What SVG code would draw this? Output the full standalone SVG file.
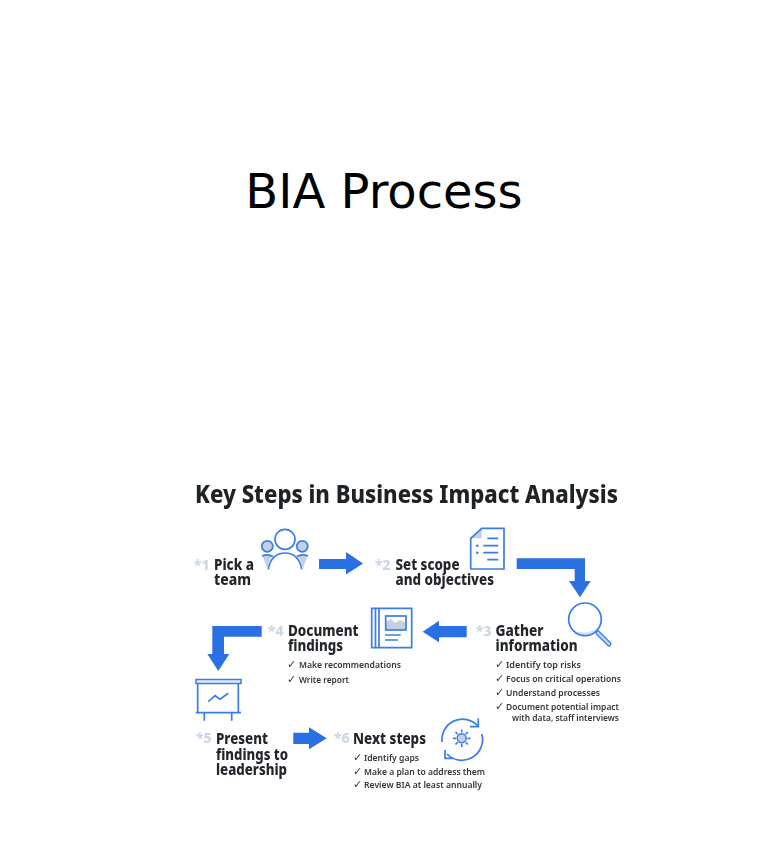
<svg xmlns="http://www.w3.org/2000/svg" width="768" height="866" viewBox="0 0 768 866">
<style>
.t{font-family:"DejaVu Sans",sans-serif;font-size:48px;fill:#000}
.h{font-family:"Noto Sans","Open Sans",sans-serif;font-weight:800;font-size:24px;fill:#1f2226}
.b{font-family:"Noto Sans","Open Sans",sans-serif;font-weight:800;font-size:15px;fill:#23262b}
.s{font-family:"Noto Sans","Open Sans",sans-serif;font-weight:600;font-size:9.5px;fill:#33363b}
.c{font-family:"DejaVu Sans",sans-serif;font-size:11px;fill:#33363b}
.n{font-family:"Noto Sans","Open Sans",sans-serif;font-weight:800;font-size:14px;fill:#cbd6e6}
.i{fill:none;stroke:#3b7de8;stroke-width:1.7}
.a{fill:#2b6fe3}
.g{fill:#c3d0e2}
</style>
<defs><filter id="soft" x="-5%" y="-5%" width="110%" height="110%"><feGaussianBlur stdDeviation="0.45"/></filter></defs>
<rect width="768" height="866" fill="#fff"/>
<text class="t" x="384" y="208" text-anchor="middle">BIA Process</text>
<g filter="url(#soft)">
<text class="h" x="195" y="503" textLength="423" lengthAdjust="spacingAndGlyphs">Key Steps in Business Impact Analysis</text>
<g id="connectors">
<polygon class="a" points="319,559 346,559 346,552 363,563.5 346,574.5 346,569 319,569"/>
<polygon class="a" points="516.7,558.3 585,558.3 585,581 590.7,581 580,597.3 569,581 574.7,581 574.7,569 516.7,569"/>
<polygon class="a" points="466.7,626 439,626 439,620.7 422.7,631.7 439,642.3 439,637.3 466.7,637.3"/>
<polygon class="a" points="212.3,626 261.7,626 261.7,636.7 224,636.7 224,654 229.3,654 218.3,671 207.3,654 212.3,654"/>
<polygon class="a" points="293.3,732.7 309,732.7 309,727.3 326.7,738.3 309,749.3 309,744 293.3,744"/>
</g>
<g id="node1">
<text class="n" x="194" y="570">*1</text>
<text class="b" x="214" y="570" textLength="40" lengthAdjust="spacingAndGlyphs">Pick a</text>
<text class="b" x="214" y="585" textLength="37" lengthAdjust="spacingAndGlyphs">team</text>
<path class="g" d="M262.3,556 Q268,554 272,556.7 Q268,561 267,569 Q265,561 262.3,556Z"/>
<path class="g" d="M307.7,556 Q302,554 298,556.7 Q302,561 303,569 Q305,561 307.7,556Z"/>
<circle class="g" cx="267.3" cy="546.3" r="5.5" stroke="#3b7de8" stroke-width="1.7"/>
<circle class="g" cx="302.3" cy="546.3" r="5.5" stroke="#3b7de8" stroke-width="1.7"/>
<circle class="i" cx="285" cy="539.3" r="10"/>
<path class="i" d="M268.3,569.3 C270,558 277,553 285,553 C293,553 300,558 301.7,569.3"/>
<path class="i" d="M262,556 Q268,553.5 273,556.5 M308,556 Q302,553.5 297,556.5"/>
</g>
<g id="node2">
<text class="n" x="375" y="570">*2</text>
<text class="b" x="395.5" y="570" textLength="64" lengthAdjust="spacingAndGlyphs">Set scope</text>
<text class="b" x="395.5" y="585" textLength="98.5" lengthAdjust="spacingAndGlyphs">and objectives</text>
<path class="g" d="M470.7,538.3 L481.7,528.3 V538.3Z"/>
<path class="i" d="M481.7,528.3 H504 V569 H470.7 V538.3Z"/>
<path class="i" d="M487.3,538.3 H498.3 M483.3,545.7 H498.3 M483.3,552.7 H498.3 M487.3,559.7 H498.3"/>
<circle cx="477.3" cy="545.7" r="1.3" fill="#3b7de8"/>
<circle cx="477.3" cy="552.7" r="1.3" fill="#3b7de8"/>
</g>
<g id="node3">
<text class="n" x="476" y="636">*3</text>
<text class="b" x="495.5" y="636" textLength="48" lengthAdjust="spacingAndGlyphs">Gather</text>
<text class="b" x="495.5" y="651" textLength="82" lengthAdjust="spacingAndGlyphs">information</text>
<path d="M573,630 A16,16 0 0 0 598,627 A22,22 0 0 1 573,630Z" fill="#d5deeb"/>
<circle class="i" cx="585" cy="619.3" r="16.3"/>
<path d="M598,633 L609,644" stroke="#3b7de8" stroke-width="5" stroke-linecap="round" fill="none"/>
<path d="M598,633 L609,644" stroke="#c3d6f0" stroke-width="2.4" stroke-linecap="round" fill="none"/>
<text class="c" x="495" y="668">✓</text><text class="s" x="506" y="668" textLength="75" lengthAdjust="spacingAndGlyphs">Identify top risks</text>
<text class="c" x="495" y="682">✓</text><text class="s" x="506" y="682" textLength="115" lengthAdjust="spacingAndGlyphs">Focus on critical operations</text>
<text class="c" x="495" y="696">✓</text><text class="s" x="506" y="696" textLength="94" lengthAdjust="spacingAndGlyphs">Understand processes</text>
<text class="c" x="495" y="710">✓</text><text class="s" x="506" y="710" textLength="113" lengthAdjust="spacingAndGlyphs">Document potential impact</text>
<text class="s" x="512" y="721" textLength="107" lengthAdjust="spacingAndGlyphs">with data, staff interviews</text>
</g>
<g id="node4">
<text class="n" x="268" y="636">*4</text>
<text class="b" x="288" y="636" textLength="70.5" lengthAdjust="spacingAndGlyphs">Document</text>
<text class="b" x="288" y="651" textLength="55" lengthAdjust="spacingAndGlyphs">findings</text>
<path class="i" d="M371.7,608.3 H411.7 V647.7 H371.7Z M375.5,608.3 V647.7 M379,608.3 V647.7"/>
<path class="g" d="M386,630 V622 L391,619 L395,623 L400,620 L406,623 V630Z"/>
<rect class="i" x="385.7" y="616" width="20.3" height="14"/>
<path class="i" d="M385,635 H400.7 M385,640 H398"/>
<text class="c" x="287" y="668">✓</text><text class="s" x="299" y="668" textLength="102" lengthAdjust="spacingAndGlyphs">Make recommendations</text>
<text class="c" x="287" y="683">✓</text><text class="s" x="299" y="683" textLength="50" lengthAdjust="spacingAndGlyphs">Write report</text>
</g>
<g id="node5">
<text class="n" x="196" y="743">*5</text>
<text class="b" x="216" y="744" textLength="52" lengthAdjust="spacingAndGlyphs">Present</text>
<text class="b" x="216" y="759.5" textLength="72" lengthAdjust="spacingAndGlyphs">findings to</text>
<text class="b" x="216" y="775" textLength="71" lengthAdjust="spacingAndGlyphs">leadership</text>
<rect x="196" y="679.5" width="45" height="4" fill="#e3ecf8" stroke="#3b7de8" stroke-width="1.5"/>
<path class="i" d="M197.7,683.5 V712.7 H238.3 V683.5 M195.7,712.7 H241 M204.3,712.7 V720.7 M231.7,712.7 V720.7"/>
<path class="i" d="M208.3,701.7 L215,695.7 L220,699.3 L228.3,693.3"/>
</g>
<g id="node6">
<text class="n" x="334" y="743">*6</text>
<text class="b" x="353" y="744" textLength="73" lengthAdjust="spacingAndGlyphs">Next steps</text>
<path class="i" d="M442,742 A20.7,20.7 0 0 1 478,726 M481.8,734 A20.7,20.7 0 0 1 447,754"/>
<path class="i" d="M478.3,718.3 V726.7 H470 M445,750 V758.3 H453.3"/>
<circle class="g" cx="461.7" cy="738.3" r="4.5" stroke="#3b7de8" stroke-width="1.5"/>
<path class="i" d="M461.7,729.5 V732.5 M461.7,744 V747 M453,738.3 H456 M467.5,738.3 H470.5 M455.5,732 L457.6,734.2 M465.8,742.4 L467.9,744.5 M467.9,732 L465.8,734.2 M457.6,742.4 L455.5,744.5"/>
<text class="c" x="353" y="761">✓</text><text class="s" x="364" y="761" textLength="55" lengthAdjust="spacingAndGlyphs">Identify gaps</text>
<text class="c" x="353" y="775">✓</text><text class="s" x="364" y="775" textLength="121" lengthAdjust="spacingAndGlyphs">Make a plan to address them</text>
<text class="c" x="353" y="788">✓</text><text class="s" x="364" y="788" textLength="118" lengthAdjust="spacingAndGlyphs">Review BIA at least annually</text>
</g>
</g>
</svg>
